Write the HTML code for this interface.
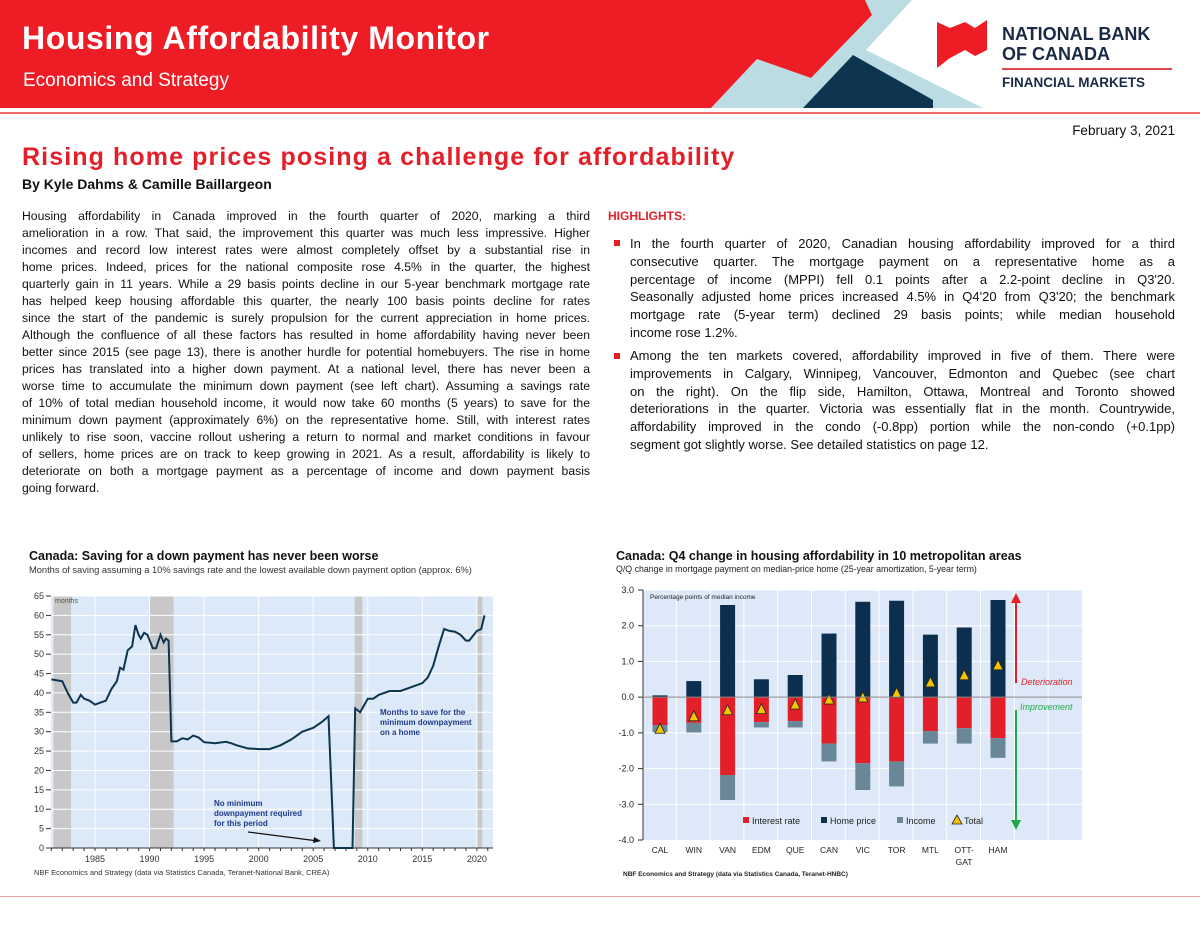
<!DOCTYPE html>
<html><head><meta charset="utf-8">
<style>
body{margin:0;width:1200px;height:927px;position:relative;background:#fff;font-family:"Liberation Sans",sans-serif;overflow:hidden}
.a{position:absolute;white-space:nowrap}
.tl div{text-align:justify;text-align-last:justify;height:17px;line-height:17px}
.tl div.l{text-align-last:left}
.tr div{text-align:justify;text-align-last:justify;height:17.8px;line-height:17.8px}
.tr div.l{text-align-last:left}
</style></head><body>
<svg class="a" style="left:0;top:0" width="1200" height="120">
<polygon points="865,0 912,0 866,50 983,108 711,108 757,59 811,78 872,15" fill="#bcdce4"/>
<polygon points="0,0 865,0 872,15 811,78 757,59 711,108 0,108" fill="#ee1c25"/>
<polygon points="853,55 933,100 933,108 803,108" fill="#0d3550"/>
<rect x="0" y="112" width="1200" height="2" fill="#f06b6b"/>
<polygon points="937,22 950,28 965,22 975,28 987,20 987,50 975,56 965,50 950,58 937,68" fill="#ee1c25"/>
<rect x="1002" y="68" width="170" height="2" fill="#e0474d"/>
</svg>
<div class="a" style="left:22px;top:20px;color:#fff;font-weight:bold;font-size:32px;letter-spacing:0.6px">Housing Affordability Monitor</div>
<div class="a" style="left:23px;top:70px;color:#fff;font-size:19px">Economics and Strategy</div>
<div class="a" style="left:1002px;top:24px;color:#1a2a44;font-weight:bold;font-size:18px;line-height:20px">NATIONAL BANK<br>OF CANADA</div>
<div class="a" style="left:1002px;top:75px;color:#1a2a44;font-weight:bold;font-size:13.5px">FINANCIAL MARKETS</div>
<div class="a" style="right:25px;top:123px;font-size:13.5px;color:#111">February 3, 2021</div>
<div class="a" style="left:22px;top:143px;color:#e3202a;font-weight:bold;font-size:25px;letter-spacing:1.1px">Rising home prices posing a challenge for affordability</div>
<div class="a" style="left:22px;top:176px;color:#111;font-weight:bold;font-size:14px">By Kyle Dahms &amp; Camille Baillargeon</div>
<div class="a tl" style="left:22px;top:208px;width:568px;font-size:12.2px;color:#111">
<div>Housing affordability in Canada improved in the fourth quarter of 2020, marking a third</div>
<div>amelioration in a row. That said, the improvement this quarter was much less impressive. Higher</div>
<div>incomes and record low interest rates were almost completely offset by a substantial rise in</div>
<div>home prices. Indeed, prices for the national composite rose 4.5% in the quarter, the highest</div>
<div>quarterly gain in 11 years. While a 29 basis points decline in our 5-year benchmark mortgage rate</div>
<div>has helped keep housing affordable this quarter, the nearly 100 basis points decline for rates</div>
<div>since the start of the pandemic is surely propulsion for the current appreciation in home prices.</div>
<div>Although the confluence of all these factors has resulted in home affordability having never been</div>
<div>better since 2015 (see page 13), there is another hurdle for potential homebuyers. The rise in home</div>
<div>prices has translated into a higher down payment. At a national level, there has never been a</div>
<div>worse time to accumulate the minimum down payment (see left chart). Assuming a savings rate</div>
<div>of 10% of total median household income, it would now take 60 months (5 years) to save for the</div>
<div>minimum down payment (approximately 6%) on the representative home. Still, with interest rates</div>
<div>unlikely to rise soon, vaccine rollout ushering a return to normal and market conditions in favour</div>
<div>of sellers, home prices are on track to keep growing in 2021. As a result, affordability is likely to</div>
<div>deteriorate on both a mortgage payment as a percentage of income and down payment basis</div>
<div class="l">going forward.</div>
</div>
<div class="a" style="left:608px;top:209px;color:#e3202a;font-weight:bold;font-size:12px">HIGHLIGHTS:</div>
<div class="a" style="left:614px;top:240px;width:6px;height:6px;background:#e3202a"></div>
<div class="a" style="left:614px;top:353px;width:6px;height:6px;background:#e3202a"></div>
<div class="a tr" style="left:630px;top:235px;width:545px;font-size:13px;color:#111">
<div>In the fourth quarter of 2020, Canadian housing affordability improved for a third</div>
<div>consecutive quarter. The mortgage payment on a representative home as a</div>
<div>percentage of income (MPPI) fell 0.1 points after a 2.2-point decline in Q3'20.</div>
<div>Seasonally adjusted home prices increased 4.5% in Q4'20 from Q3'20; the benchmark</div>
<div>mortgage rate (5-year term) declined 29 basis points; while median household</div>
<div class="l">income rose 1.2%.</div>
</div>
<div class="a tr" style="left:630px;top:347px;width:545px;font-size:13px;color:#111">
<div>Among the ten markets covered, affordability improved in five of them. There were</div>
<div>improvements in Calgary, Winnipeg, Vancouver, Edmonton and Quebec (see chart</div>
<div>on the right). On the flip side, Hamilton, Ottawa, Montreal and Toronto showed</div>
<div>deteriorations in the quarter. Victoria was essentially flat in the month. Countrywide,</div>
<div>affordability improved in the condo (-0.8pp) portion while the non-condo (+0.1pp)</div>
<div class="l">segment got slightly worse. See detailed statistics on page 12.</div>
</div>
<div class="a" style="left:0;top:896px;width:1200px;height:1px;background:#f3a0a0"></div>
<svg id="c1" class="a" style="left:0;top:540px" width="600" height="350" font-family="Liberation Sans, sans-serif"></svg>
<svg id="c2" class="a" style="left:600px;top:540px" width="600" height="350" font-family="Liberation Sans, sans-serif"></svg>
<script>
function E(s,t,a,tx){var e=document.createElementNS("http://www.w3.org/2000/svg",t);for(var k in a)e.setAttribute(k,a[k]);if(tx!=null)e.textContent=tx;s.appendChild(e);return e;}
var s=document.getElementById('c1');
E(s,'text',{x:29,y:20,'font-size':12.5,'font-weight':'bold',fill:'#111'},'Canada: Saving for a down payment has never been worse');
E(s,'text',{x:29,y:33,'font-size':9.3,fill:'#333'},'Months of saving assuming a 10% savings rate and the lowest available down payment option (approx. 6%)');
var L=51,R=493,T=56,B=308;
function X(y){return 95+(y-1985)*10.91}function Y(v){return B-(v/65)*(B-T)}
E(s,'rect',{x:L,y:T,width:R-L,height:B-T,fill:'#dce9f8'});
[[1981.2,1982.8],[1990,1992.2],[2008.8,2009.5],[2020,2020.5]].forEach(function(r){E(s,'rect',{x:X(r[0]),y:T,width:X(r[1])-X(r[0]),height:B-T,fill:'#c8c8c8'})});
for(var v=5;v<=65;v+=5)E(s,'line',{x1:L,x2:R,y1:Y(v),y2:Y(v),stroke:'#fff','stroke-width':1});
for(var yr=1985;yr<=2020;yr+=5){E(s,'line',{x1:X(yr),x2:X(yr),y1:T,y2:B,stroke:'#fff'});E(s,'text',{x:X(yr),y:322,'font-size':9,fill:'#333','text-anchor':'middle'},yr);}
for(var v=0;v<=65;v+=5){E(s,'text',{x:44,y:Y(v)+3,'font-size':9,fill:'#333','text-anchor':'end'},v);E(s,'line',{x1:46,x2:L,y1:Y(v),y2:Y(v),stroke:'#333'});}
E(s,'line',{x1:L,x2:R,y1:B,y2:B,stroke:'#333'});
for(var q=1981;q<=2021;q+=1)E(s,'line',{x1:X(q),x2:X(q),y1:B,y2:B+3,stroke:'#333'});
var d=[[1981,43.5],[1982,43],[1982.5,40],[1983,37.5],[1983.3,37.5],[1983.7,39.5],[1984,38.5],[1984.5,38],[1985,37],[1985.5,37.5],[1986,38],[1986.5,41],[1987,43],[1987.3,46.5],[1987.6,46],[1988,51],[1988.4,52],[1988.7,57.5],[1989,55],[1989.2,54],[1989.5,55.5],[1989.8,55],[1990.3,51.5],[1990.6,51.5],[1991,55],[1991.3,53],[1991.5,54],[1991.75,53.5],[1992,27.5],[1992.5,27.5],[1993,28.3],[1993.5,28],[1994,29],[1994.5,28.5],[1995,27.3],[1996,27],[1997,27.4],[1997.5,27],[1998,26.5],[1999,25.7],[2000,25.5],[2001,25.5],[2002,26.5],[2003,28],[2004,30],[2005,31],[2005.8,32.5],[2006.4,34],[2006.9,0],[2008.6,0],[2008.85,36],[2009.3,35],[2010,38.5],[2010.5,38.5],[2011,39.5],[2012,40.5],[2013,40.5],[2014,41.5],[2015,42.5],[2015.5,44],[2016,47],[2016.5,52],[2017,56.5],[2017.5,56],[2018,55.8],[2018.5,55],[2019,53.5],[2019.3,53.5],[2020,56],[2020.4,56.5],[2020.7,60]];
E(s,'polyline',{points:d.map(function(p){return X(p[0]).toFixed(1)+','+Y(p[1]).toFixed(1)}).join(' '),fill:'none',stroke:'#0d3550','stroke-width':2});
E(s,'text',{x:55,y:63,'font-size':7,fill:'#553'},'months');
['Months to save for the','minimum downpayment','on a home'].forEach(function(t,i){E(s,'text',{x:380,y:175+i*10,'font-size':8,'font-weight':'bold',fill:'#1f3a8a'},t)});
['No minimum','downpayment required','for this period'].forEach(function(t,i){E(s,'text',{x:214,y:266+i*10,'font-size':8,'font-weight':'bold',fill:'#1f3a8a'},t)});
E(s,'line',{x1:248,y1:292,x2:318,y2:301,stroke:'#111','stroke-width':1.2});E(s,'polygon',{points:'321,301 314,297 313,303',fill:'#111'});
E(s,'text',{x:34,y:335,'font-size':7.5,fill:'#333'},'NBF Economics and Strategy (data via Statistics Canada, Teranet-National Bank, CREA)');
s=document.getElementById('c2');
E(s,'text',{x:16,y:20,'font-size':12.5,'font-weight':'bold',fill:'#111'},'Canada: Q4 change in housing affordability in 10 metropolitan areas');
E(s,'text',{x:16,y:32,'font-size':8.8,fill:'#222'},'Q/Q change in mortgage payment on median-price home (25-year amortization, 5-year term)');
L=43;R=482;T=50;B=300;var Z=T+3*(B-T)/7;function V(v){return Z-v*(B-T)/7}
E(s,'rect',{x:L,y:T,width:R-L,height:B-T,fill:'#dde9f8'});
for(var v=-3;v<=3;v++){E(s,'line',{x1:L,x2:R,y1:V(v),y2:V(v),stroke:'#fff'});}
for(var v=-4;v<=3;v++){E(s,'text',{x:34,y:V(v)+3,'font-size':9,fill:'#222','text-anchor':'end'},v.toFixed(1));E(s,'line',{x1:38,x2:L,y1:V(v),y2:V(v),stroke:'#333'});}
E(s,'line',{x1:L,x2:L,y1:T,y2:B,stroke:'#333'});
var cats=['CAL','WIN','VAN','EDM','QUE','CAN','VIC','TOR','MTL','OTT-','HAM'];
var data=[[0.05,-0.78,-0.2,-0.9],[0.45,-0.72,-0.27,-0.55],[2.58,-2.18,-0.7,-0.38],[0.5,-0.7,-0.15,-0.35],[0.62,-0.67,-0.18,-0.22],[1.78,-1.3,-0.5,-0.08],[2.67,-1.85,-0.75,-0.02],[2.7,-1.8,-0.7,0.1],[1.75,-0.95,-0.35,0.4],[1.95,-0.87,-0.43,0.6],[2.72,-1.15,-0.55,0.88]];
var W=33.8;for(var i=1;i<=12;i++)E(s,'line',{x1:L+W*i-0.5,x2:L+W*i-0.5,y1:T,y2:B,stroke:'#fff'});
data.forEach(function(r,i){var cx=60+i*33.8;
E(s,'rect',{x:cx-7.5,y:V(r[0]),width:15,height:V(0)-V(r[0]),fill:'#0d2f4f'});
E(s,'rect',{x:cx-7.5,y:V(0),width:15,height:V(r[1])-V(0),fill:'#e3202a'});
E(s,'rect',{x:cx-7.5,y:V(r[1]),width:15,height:V(r[1]+r[2])-V(r[1]),fill:'#6a8797'});
var ty=V(r[3]);E(s,'polygon',{points:(cx)+','+(ty-6)+' '+(cx-5)+','+(ty+4)+' '+(cx+5)+','+(ty+4),fill:'#f5c400',stroke:'#222','stroke-width':0.8});
E(s,'text',{x:cx,y:313,'font-size':8.5,fill:'#222','text-anchor':'middle'},cats[i]);});
E(s,'text',{x:364,y:325,'font-size':8.5,fill:'#222','text-anchor':'middle'},'GAT');
E(s,'line',{x1:L,x2:R,y1:Z,y2:Z,stroke:'#888'});
E(s,'line',{x1:416,x2:416,y1:143,y2:61,stroke:'#e3202a','stroke-width':2});E(s,'polygon',{points:'416,53 411,63 421,63',fill:'#e3202a'});
E(s,'line',{x1:416,x2:416,y1:170,y2:282,stroke:'#1faa4a','stroke-width':2});E(s,'polygon',{points:'416,290 411,280 421,280',fill:'#1faa4a'});
E(s,'text',{x:421,y:145,'font-size':9,'font-style':'italic',fill:'#e3202a'},'Deterioration');
E(s,'text',{x:420,y:170,'font-size':9,'font-style':'italic',fill:'#1faa4a'},'Improvement');
E(s,'text',{x:50,y:59,'font-size':6.5,fill:'#222'},'Percentage points of median income');
var lg=[['Interest rate','#e3202a',143],['Home price','#0d2f4f',221],['Income','#6a8797',297]];
lg.forEach(function(g){E(s,'rect',{x:g[2],y:277,width:6,height:6,fill:g[1]});E(s,'text',{x:g[2]+9,y:284,'font-size':9,fill:'#222'},g[0])});
E(s,'polygon',{points:'357,275 352,284 362,284',fill:'#f5c400',stroke:'#222','stroke-width':0.8});E(s,'text',{x:364,y:284,'font-size':9,fill:'#222'},'Total');
E(s,'text',{x:23,y:336,'font-size':6.5,'font-weight':'bold',fill:'#222'},'NBF Economics and Strategy (data via Statistics Canada, Teranet-HNBC)');
</script>
</body></html>
